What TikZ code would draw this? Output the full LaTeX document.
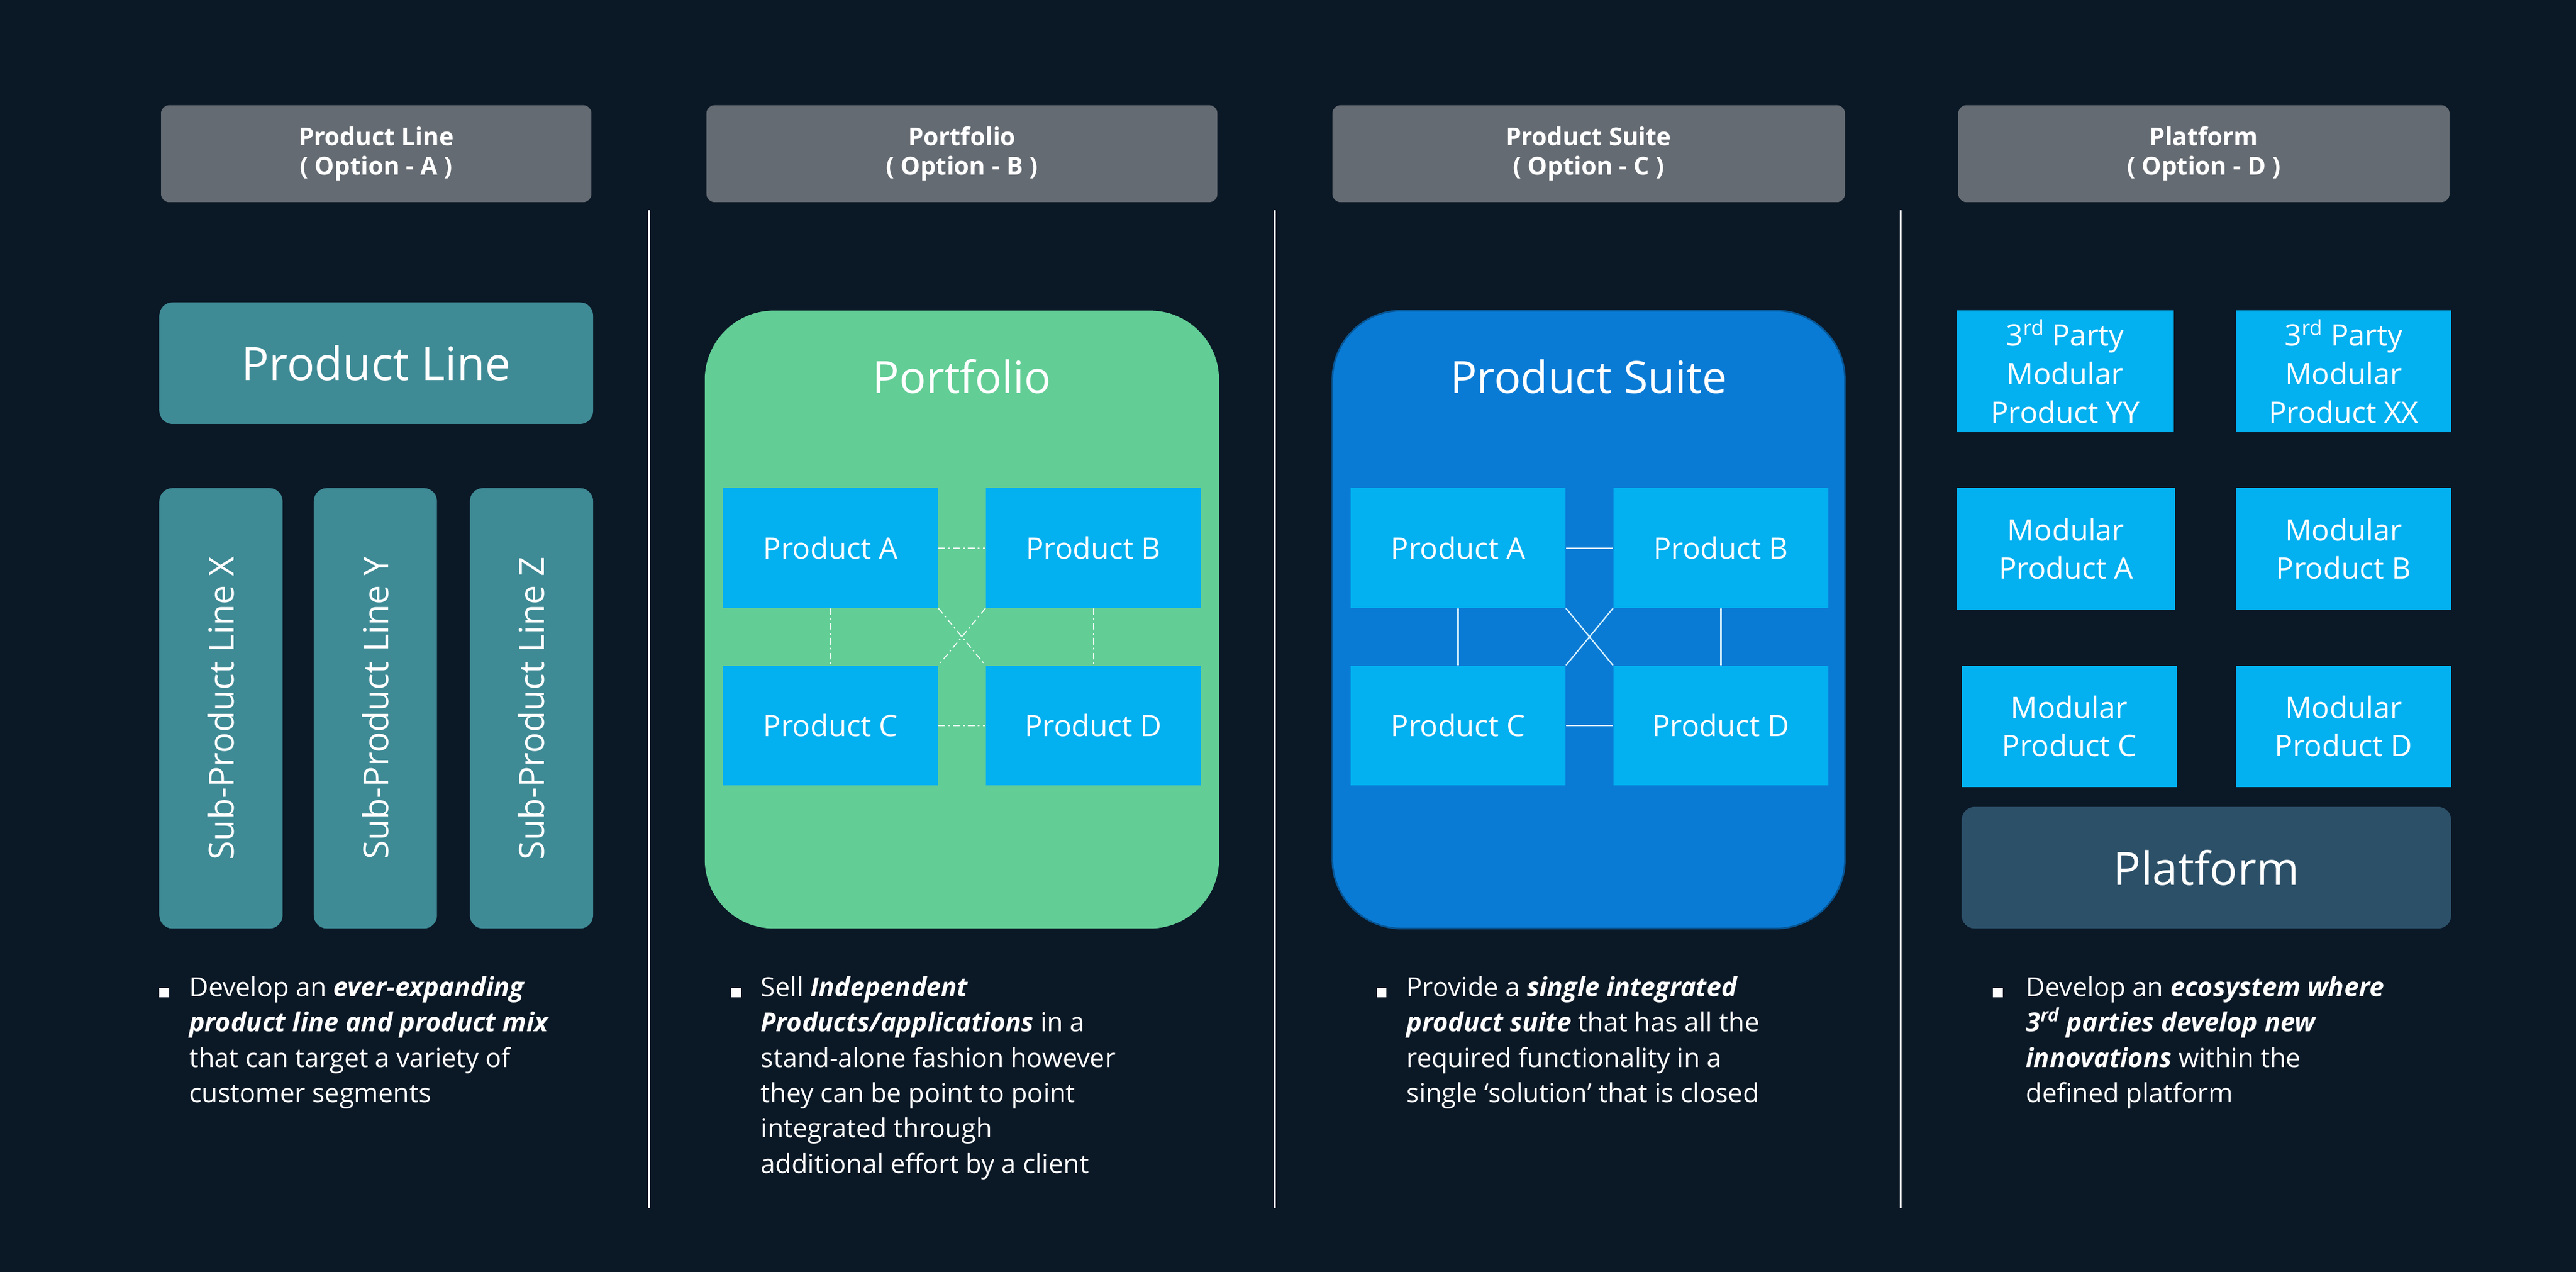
\documentclass[tikz,border=0pt]{standalone}
\usepackage{fontspec}
\setmainfont{Open Sans}
\begin{document}
\begin{tikzpicture}[x=1pt,y=-1pt,
  hdr/.style={fill=hdrgray,rounded corners=5pt,text=white,font=\fontsize{15}{18}\selectfont\bfseries,align=center},
  lb/.style={fill=lblue,text=white,font=\fontsize{18}{23}\selectfont,align=center,inner sep=0},
  sep/.style={white,line width=1.2pt},
  dd/.style={white,line width=0.6pt,dash pattern=on 4pt off 2pt on 1pt off 2pt},
  sl/.style={white!85!lblue,line width=0.8pt},
  bul/.style={text=white,font=\fontsize{16}{21.5}\selectfont,align=left,anchor=north west,inner sep=0}]
\definecolor{bg}{HTML}{0B1826}
\definecolor{hdrgray}{HTML}{656B72}
\definecolor{teal}{HTML}{3E8A95}
\definecolor{pgreen}{HTML}{62CD95}
\definecolor{sblue}{HTML}{0A7BD5}
\definecolor{lblue}{HTML}{03B0F0}
\definecolor{plat}{HTML}{2C5068}
\fill[bg] (0,0) rectangle (1568,774);
\useasboundingbox (0,0) rectangle (1568,774);
% headers
\node[hdr,minimum width=262pt,minimum height=59pt] (hA) at (229,93.5) {Product Line\\( Option - A )};
\node[hdr,minimum width=311pt,minimum height=59pt] (hB) at (585.5,93.5) {Portfolio\\( Option - B )};
\node[hdr,minimum width=312pt,minimum height=59pt] (hC) at (967,93.5) {Product Suite\\( Option - C )};
\node[hdr,minimum width=299pt,minimum height=59pt] (hD) at (1341.5,93.5) {Platform\\( Option - D )};
% separators
\coordinate (s1t) at (395,128); \coordinate (s1b) at (395,735);
\coordinate (s2t) at (776,128); \coordinate (s2b) at (776,735);
\coordinate (s3t) at (1157,128); \coordinate (s3b) at (1157,735);
\draw[sep] (s1t)--(s1b); \draw[sep] (s2t)--(s2b); \draw[sep] (s3t)--(s3b);
% Option A
\node[fill=teal,rounded corners=8pt,minimum width=264pt,minimum height=74pt,text=white,font=\fontsize{28}{32}\selectfont] (pl) at (229,221) {Product Line};
\foreach \n/\x/\l in {x/134.5/X,y/228.5/Y,z/323.5/Z}{
  \node[fill=teal,rounded corners=8pt,minimum width=75pt,minimum height=268pt] (sp\n) at (\x,431) {};
  \node[rotate=90,text=white,font=\fontsize{21}{24}\selectfont] at (sp\n) {Sub-Product Line \l};
}
% Option B
\node[fill=pgreen,rounded corners=42pt,minimum width=313pt,minimum height=376pt] (pf) at (585.5,377) {};
\node[text=white,font=\fontsize{27}{32}\selectfont] at (585.5,229) {Portfolio};
\node[lb,minimum width=131pt,minimum height=73pt] (bA) at (505.5,333.5) {Product A};
\node[lb,minimum width=131pt,minimum height=73pt] (bB) at (665.5,333.5) {Product B};
\node[lb,minimum width=131pt,minimum height=73pt] (bC) at (505.5,441.5) {Product C};
\node[lb,minimum width=131pt,minimum height=73pt] (bD) at (665.5,441.5) {Product D};
\draw[dd] (bA)--(bB); \draw[dd] (bC)--(bD); \draw[dd] (bA)--(bC); \draw[dd] (bB)--(bD);
\draw[dd] (bA.south east)--(bD.north west); \draw[dd] (bB.south west)--(bC.north east);
% Option C
\node[fill=sblue,draw=sblue!70!black,line width=1pt,rounded corners=42pt,minimum width=312pt,minimum height=376pt] (ps) at (967,377) {};
\node[text=white,font=\fontsize{27}{32}\selectfont] at (967,229) {Product Suite};
\node[lb,minimum width=131pt,minimum height=73pt] (cA) at (887.5,333.5) {Product A};
\node[lb,minimum width=131pt,minimum height=73pt] (cB) at (1047.5,333.5) {Product B};
\node[lb,minimum width=131pt,minimum height=73pt] (cC) at (887.5,441.5) {Product C};
\node[lb,minimum width=131pt,minimum height=73pt] (cD) at (1047.5,441.5) {Product D};
\draw[sl] (cA)--(cB); \draw[sl] (cC)--(cD); \draw[sl] (cA)--(cC); \draw[sl] (cB)--(cD);
\draw[sl] (cA.south east)--(cD.north west); \draw[sl] (cB.south west)--(cC.north east);
% Option D
\node[lb,minimum width=132pt,minimum height=74pt,font=\fontsize{18}{23.5}\selectfont] (dY) at (1257,226) {3\textsuperscript{rd} Party\\Modular\\Product YY};
\node[lb,minimum width=131pt,minimum height=74pt,font=\fontsize{18}{23.5}\selectfont] (dX) at (1426.5,226) {3\textsuperscript{rd} Party\\Modular\\Product XX};
\node[lb,minimum width=133pt,minimum height=74pt] (dA) at (1257.5,334) {Modular\\Product A};
\node[lb,minimum width=131pt,minimum height=74pt] (dB) at (1426.5,334) {Modular\\Product B};
\node[lb,minimum width=131pt,minimum height=74pt] (dC) at (1259.5,442) {Modular\\Product C};
\node[lb,minimum width=131pt,minimum height=74pt] (dD) at (1426.5,442) {Modular\\Product D};
\node[fill=plat,rounded corners=8pt,minimum width=298pt,minimum height=74pt,text=white,font=\fontsize{28}{32}\selectfont] (pt) at (1343,528) {Platform};
% bullets
\foreach \x in {97,445,838,1213}{\fill[white] (\x,601) rectangle ++(6,6);}
\node[bul] (tA) at (115,594) {Develop an \textbf{\textit{ever-expanding}}\\\textbf{\textit{product line and product mix}}\\that can target a variety of\\customer segments};
\node[bul] (tB) at (463,594) {Sell \textbf{\textit{Independent}}\\\textbf{\textit{Products/applications}} in a\\stand-alone fashion however\\they can be point to point\\integrated through\\additional effort by a client};
\node[bul] (tC) at (856,594) {Provide a \textbf{\textit{single integrated}}\\\textbf{\textit{product suite}} that has all the\\required functionality in a\\single `solution' that is closed};
\node[bul] (tD) at (1233,594) {Develop an \textbf{\textit{ecosystem where}}\\\textbf{\textit{3\textsuperscript{rd} parties develop new}}\\\textbf{\textit{innovations}} within the\\defined platform};
\end{tikzpicture}
\end{document}
